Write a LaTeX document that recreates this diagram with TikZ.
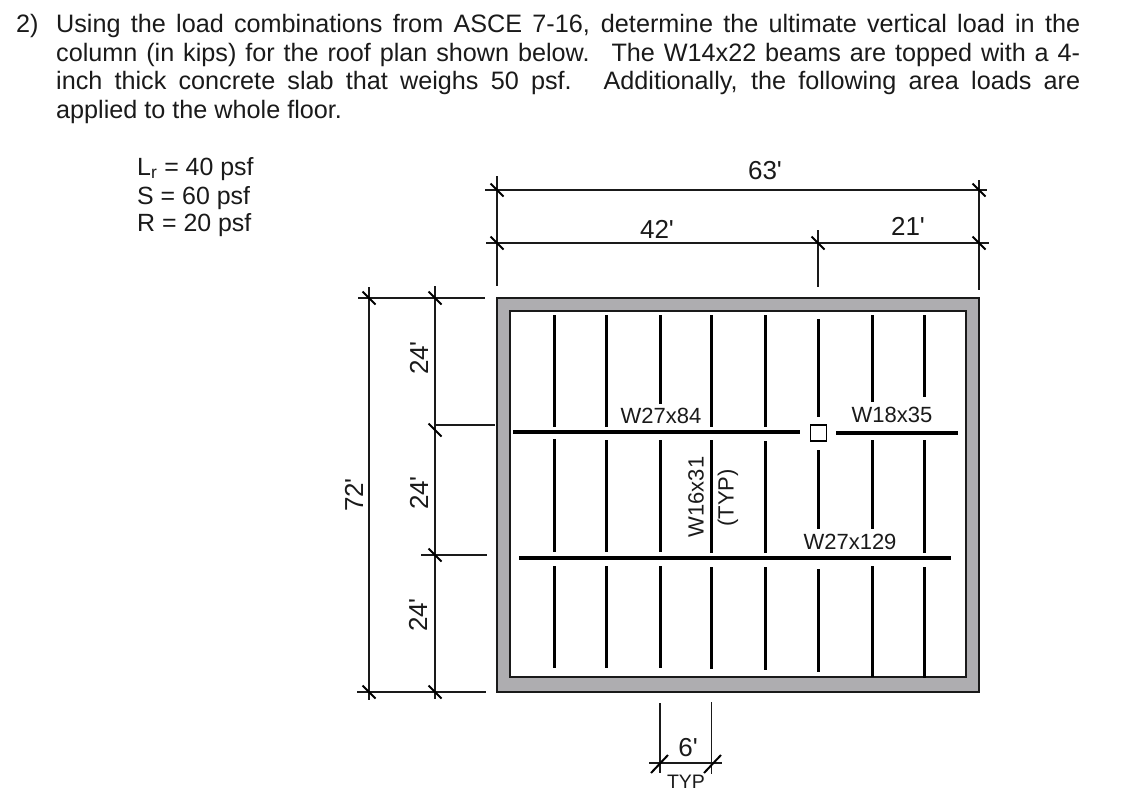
\documentclass[tikz,border=0pt]{standalone}
\usepackage{fontspec}
\setmainfont{Liberation Sans}
\definecolor{wallgray}{HTML}{AEADB0}
\definecolor{ink}{HTML}{1A1A1A}
\newcommand{\ft}{\textquotesingle}
\tikzset{
  x=1pt,y=-1pt,
  para/.style={anchor=base west,inner sep=0pt,text=ink,font=\fontsize{25.2}{29}\selectfont},
  load/.style={anchor=base west,inner sep=0pt,text=ink,font=\fontsize{24.9}{29}\selectfont},
  dimtext/.style={inner sep=0pt,text=ink,font=\fontsize{26}{29}\selectfont},
  beamtext/.style={inner sep=0pt,text=ink,font=\fontsize{22}{24}\selectfont},
  typtext/.style={inner sep=0pt,text=ink,font=\fontsize{19.5}{24}\selectfont},
  dimline/.style={draw=ink,line width=1.4pt},
  tickmark/.style={draw=black,line width=2pt},
  joist/.style={draw=black,line width=3pt},
  girder/.style={draw=black,line width=3.6pt},
}
\newcommand{\backtick}[2]{\draw[tickmark] (#1-6.5,#2-6.5) -- (#1+6.5,#2+6.5);}
\newcommand{\joistcol}[7]{%
  \draw[joist] (#1,#2) -- (#1,#3);
  \draw[joist] (#1,#4) -- (#1,#5);
  \draw[joist] (#1,#6) -- (#1,#7);}
\begin{document}
\begin{tikzpicture}
\useasboundingbox[fill=white] (0,0) rectangle (1121,809);
% problem text
\node[para] (num) at (16,32) {2)};
\node[para] (l1) at (56,32) {\makebox[1024pt][s]{Using the load combinations from ASCE 7-16, determine the ultimate vertical load in the}};
\node[para] (l2) at (56,61) {\makebox[1024pt][s]{column (in kips) for the roof plan shown below.\hspace{7pt} The W14x22 beams are topped with a 4-}};
\node[para] (l3) at (56,89) {\makebox[1024pt][s]{inch thick concrete slab that weighs 50 psf.\hspace{7pt} Additionally, the following area loads are}};
\node[para] (l4) at (56,118) {applied to the whole floor.};
\node[load] (lr) at (137,175) {L\textsubscript{r} = 40 psf};
\node[load] (ls) at (137,204) {S = 60 psf};
\node[load] (lrain) at (137,231) {R = 20 psf};
% wall
\draw[fill=wallgray,draw=ink,line width=1.5pt,even odd rule] (497,298) rectangle (979,692) (510,311) rectangle (966,677);
% joists
\joistcol{554.5}{315}{427}{439}{552}{566}{668}
\joistcol{606.5}{315}{427}{440}{552}{566}{668}
\joistcol{660.5}{315}{404}{440}{552}{566}{668}
\joistcol{711.5}{315}{427}{440}{553}{567}{669}
\joistcol{765.5}{315}{427}{441}{553}{567}{670}
\joistcol{818.5}{319}{417}{450}{529}{569}{672}
\joistcol{872.5}{315}{402}{440}{529}{566}{677}
\joistcol{924.5}{315}{397}{440}{553}{567}{678}
% girders
\draw[girder] (513,432) -- (800,432);
\draw[girder] (836,433) -- (958,433);
\draw[girder] (519,558) -- (951,558);
\node[draw=black,fill=white,line width=1.9pt,minimum size=16pt,inner sep=0pt] (col) at (818.5,433) {};
% beam labels
\node[beamtext] (b1) at (661,416) {W27x84};
\node[beamtext] (b2) at (892,415) {W18x35};
\node[beamtext] (b3) at (850,542) {W27x129};
\node[beamtext,rotate=90] (b4) at (696,497) {W16x31};
\node[beamtext,rotate=90] (b5) at (728,498) {(TYP)};
% top dimensions
\draw[dimline] (485,190) -- (987,190);
\draw[dimline] (486,243) -- (989,243);
\draw[dimline] (497,176) -- (497,286);
\draw[dimline] (979,180) -- (979,290);
\draw[dimline] (818,230) -- (818,287);
\backtick{497}{190}
\backtick{979}{190}
\backtick{497}{243}
\backtick{818}{243}
\backtick{979}{243}
\node[dimtext] (d63) at (765,171) {63\ft};
\node[dimtext] (d42) at (657,229) {42\ft};
\node[dimtext] (d21) at (908,226) {21\ft};
% left dimensions
\draw[dimline] (369,287) -- (369,700);
\draw[dimline] (435,286) -- (435,699);
\draw[dimline] (358,298) -- (485,298);
\draw[dimline] (357,692) -- (486,692);
\draw[dimline] (435,425) -- (495,425);
\draw[dimline] (421,555) -- (487,555);
\backtick{369}{298}
\backtick{435}{298}
\backtick{435}{430}
\backtick{435}{555}
\backtick{369}{692}
\backtick{435}{692}
\node[dimtext,rotate=90] (d72) at (354,495) {72\ft};
\node[dimtext,rotate=90] (d24a) at (419,358) {24\ft};
\node[dimtext,rotate=90] (d24b) at (419,493) {24\ft};
\node[dimtext,rotate=90] (d24c) at (418,615) {24\ft};
% bottom dimension
\draw[dimline] (660,703) -- (660,773);
\draw[dimline] (711.5,702) -- (711.5,774);
\draw[dimline] (649,763) -- (722,763);
\draw[tickmark] (651,773) -- (668,755);
\draw[tickmark] (704,773) -- (721,755);
\node[dimtext] (d6) at (688,748) {6\ft};
\node[typtext] (dtyp) at (686,782) {TYP};
\end{tikzpicture}
\end{document}
